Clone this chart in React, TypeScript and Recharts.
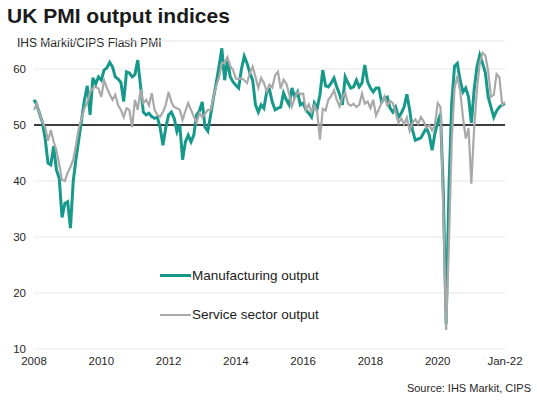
import React from "react";
import { LineChart, Line, XAxis, YAxis, CartesianGrid, ReferenceLine } from "recharts";

// Monthly, Jan 2008 .. Jan 2022
const manufacturing: number[] = [
  54.5, 53.6, 52.0, 50.5, 47.5, 43.2, 42.9, 46.2, 42.0, 40.5, 33.5, 36.0,
  36.3, 31.6, 40.0, 44.0, 47.5, 51.0, 54.5, 57.0, 51.8, 58.4, 57.3, 58.6,
  58.0, 59.8, 60.2, 61.2, 60.4, 58.6, 58.2, 57.6, 54.2, 59.5, 59.3, 58.6,
  59.0, 61.6, 57.0, 52.3, 51.8, 52.1, 51.5, 51.2, 51.4, 49.5, 46.4, 49.5,
  51.8, 52.3, 51.2, 48.8, 50.0, 43.8, 47.0, 48.2, 47.0, 48.2, 51.8, 52.5,
  54.1, 49.6, 48.9, 51.8, 54.8, 57.5, 60.5, 63.7, 58.0, 61.6, 58.6, 57.7,
  57.1, 56.6, 60.0, 62.3, 61.0, 59.3, 58.0, 53.6, 52.3, 53.6, 53.0, 55.9,
  56.3, 54.1, 52.7, 53.0, 53.2, 55.7, 54.5, 53.6, 56.6, 55.0, 55.9, 53.6,
  53.9, 52.7, 52.1, 51.4, 53.9, 53.0, 55.4, 59.8, 57.0, 56.8, 57.5, 58.4,
  56.8, 55.5, 53.6, 58.6, 57.5, 56.6, 56.8, 58.0, 56.8, 57.5, 60.7, 57.7,
  56.6, 55.9, 56.6, 56.6, 54.1, 54.8, 55.0, 53.0, 52.3, 53.2, 51.4, 52.1,
  53.2, 55.5, 52.7, 49.1, 47.3, 47.5, 47.7, 48.6, 49.5, 48.2, 45.5, 48.5,
  50.5, 52.0, 38.0, 14.5, 38.5, 54.0, 60.5, 61.0, 58.0, 55.9, 56.6, 55.0,
  50.4, 56.3, 60.4, 62.5, 61.0, 59.3, 55.0, 53.2, 51.4, 52.5, 53.2, 53.6,
  53.8,
];

const services: number[] = [
  52.7, 53.9, 52.1, 50.5, 49.6, 47.2, 49.1, 47.0, 45.5, 43.0, 40.2, 40.0,
  41.5, 42.5, 43.8, 46.5, 49.5, 51.2, 53.0, 54.0, 55.9, 56.6, 56.8, 56.5,
  55.0, 58.0, 56.6, 55.5, 54.5, 55.4, 53.5, 52.7, 51.4, 53.0, 52.7, 49.6,
  54.5, 52.7, 56.3, 53.9, 54.5, 53.5, 55.7, 52.7, 51.8, 51.5, 52.3, 53.6,
  55.9, 54.1, 53.2, 53.0, 52.7, 50.9, 52.5, 53.9, 52.7, 51.5, 50.4, 52.1,
  51.4, 52.0, 52.7, 52.7, 55.0, 57.0, 58.5, 61.0, 61.2, 62.1, 60.5, 59.8,
  58.3, 58.2, 58.4, 58.0, 57.5, 59.3, 60.4, 58.6, 56.6, 58.4, 57.5, 56.0,
  57.2, 56.7, 58.9, 59.5, 56.5, 58.1, 57.4, 55.6, 53.3, 54.9, 55.9, 55.5,
  55.6, 52.7, 53.7, 52.3, 53.5, 52.3, 47.4, 52.9, 52.6, 54.5, 55.2, 56.2,
  54.5, 53.3, 55.0, 55.8, 53.8, 53.4, 53.8, 53.2, 53.6, 55.6, 53.8, 54.2,
  53.0, 54.5, 51.7, 52.8, 54.0, 55.1, 53.5, 54.3, 53.9, 52.2, 50.4, 51.2,
  50.1, 51.3, 48.9, 50.4, 51.0, 50.2, 51.4, 50.6, 49.5, 50.0, 49.0, 50.0,
  53.9, 53.2, 34.5, 13.4, 29.0, 47.1, 56.5, 58.8, 56.1, 51.4, 47.6, 49.4,
  39.5, 49.5, 56.3, 61.0, 62.9, 62.4, 59.6, 55.0, 55.4, 59.1, 58.5, 53.6,
  54.1,
];

const xTickMonths: number[] = [0, 24, 48, 72, 96, 120, 144, 168];
const xTickLabels: string[] = ["2008", "2010", "2012", "2014", "2016", "2018", "2020", "Jan-22"];
const yTicks: number[] = [10, 20, 30, 40, 50, 60];

const TEAL = "#16998a";
const GREY = "#a9a9a9";
const FONT = "'Liberation Sans', Arial, sans-serif";

const data = manufacturing.map((m, i) => ({ i, m, s: services[i] }));

export default function App() {
  return (
    <div
      style={{
        position: "absolute",
        left: 0,
        top: 0,
        width: 537,
        height: 406,
        background: "#fff",
        fontFamily: FONT,
        overflow: "hidden",
      }}
    >
      <div
        style={{
          position: "absolute",
          left: 7,
          top: 4,
          fontSize: 21,
          fontWeight: 700,
          color: "#1a1a1a",
          whiteSpace: "nowrap",
        }}
      >
        UK PMI output indices
      </div>
      <div
        style={{
          position: "absolute",
          left: 17,
          top: 36,
          fontSize: 12,
          color: "#262626",
          whiteSpace: "nowrap",
        }}
      >
        IHS Markit/CIPS Flash PMI
      </div>
      <div style={{ position: "absolute", left: 0, top: 0 }}>
        <LineChart
          width={537}
          height={406}
          data={data}
          margin={{ top: 41, right: 32, left: 0, bottom: 0 }}
        >
          <CartesianGrid horizontal={true} vertical={false} stroke="#e6e6e6" strokeWidth={1} />
          <XAxis
            dataKey="i"
            type="number"
            domain={[0, 168]}
            ticks={xTickMonths}
            tickFormatter={(v: number) => xTickLabels[xTickMonths.indexOf(v)] ?? ""}
            axisLine={false}
            tickLine={false}
            height={57}
            interval={0}
            tick={{ fontSize: 11.5, fill: "#262626", fontFamily: FONT }}
          />
          <YAxis
            type="number"
            domain={[10, 65]}
            ticks={yTicks}
            axisLine={false}
            tickLine={false}
            width={34}
            interval={0}
            allowDataOverflow={true}
            tick={{ fontSize: 11.5, fill: "#262626", fontFamily: FONT }}
          />
          <ReferenceLine y={50} stroke="#000" strokeWidth={1.3} />
          <Line
            type="linear"
            dataKey="m"
            stroke={TEAL}
            strokeWidth={3}
            dot={false}
            isAnimationActive={false}
          />
          <Line
            type="linear"
            dataKey="s"
            stroke={GREY}
            strokeWidth={2.2}
            dot={false}
            isAnimationActive={false}
          />
        </LineChart>
      </div>
      <div style={{ position: "absolute", left: 160, top: 268, display: "flex", alignItems: "center" }}>
        <div style={{ width: 31, height: 3, background: TEAL }} />
        <span style={{ fontSize: 13.5, color: "#1a1a1a", marginLeft: 1 }}>Manufacturing output</span>
      </div>
      <div style={{ position: "absolute", left: 160, top: 307, display: "flex", alignItems: "center" }}>
        <div style={{ width: 31, height: 2, background: GREY }} />
        <span style={{ fontSize: 13.5, color: "#1a1a1a", marginLeft: 1 }}>Service sector output</span>
      </div>
      <div
        style={{
          position: "absolute",
          right: 6,
          top: 382,
          fontSize: 11,
          color: "#262626",
          whiteSpace: "nowrap",
        }}
      >
        Source: IHS Markit, CIPS
      </div>
    </div>
  );
}
